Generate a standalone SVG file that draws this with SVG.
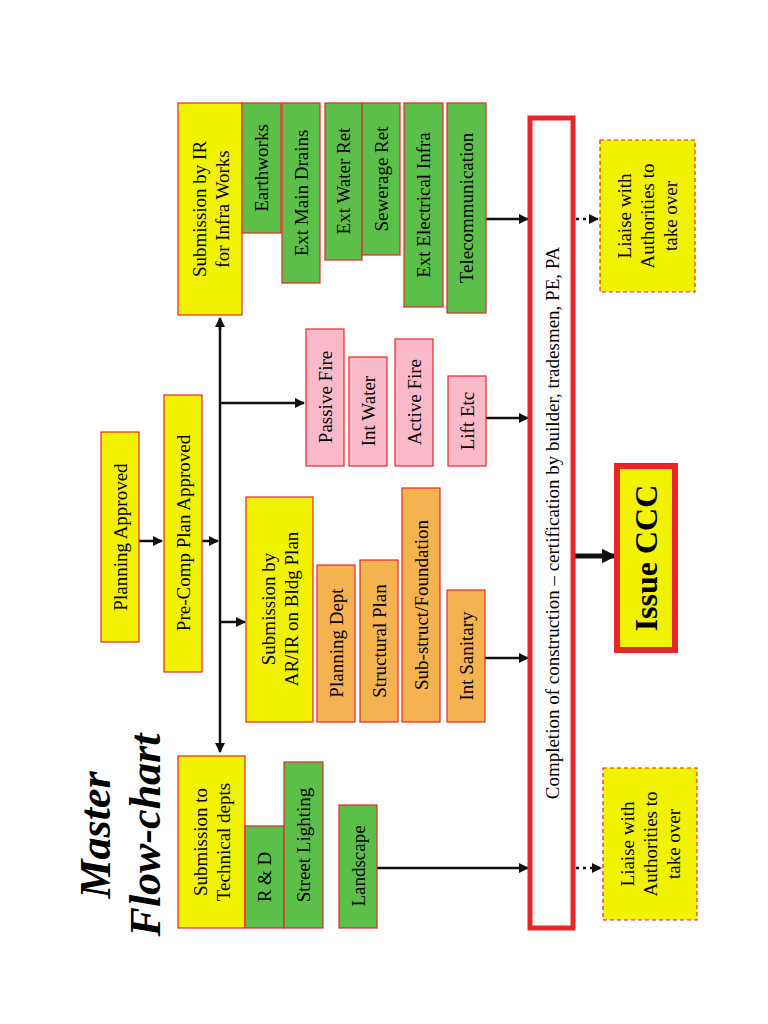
<svg xmlns="http://www.w3.org/2000/svg" width="768" height="1024" viewBox="0 0 768 1024">
<defs>
<style>
text{font-family:"Liberation Serif",serif;font-size:19px;fill:#000;text-anchor:middle;dominant-baseline:central}
.y{fill:#f2f200;stroke:#e8262a;stroke-width:1.2}
.g{fill:#5cbf4a;stroke:#e8262a;stroke-width:1.2}
.o{fill:#f4b350;stroke:#e8262a;stroke-width:1.2}
.p{fill:#f9b9c8;stroke:#e8262a;stroke-width:1.2}
.c{stroke:#111;stroke-width:2.5;fill:none}
</style>
<marker id="a" viewBox="0 0 10 10" refX="9" refY="5" markerWidth="4" markerHeight="4" orient="auto"><path d="M0,0L10,5L0,10z" fill="#111"/></marker>
<marker id="b" viewBox="0 0 10 10" refX="9" refY="5" markerWidth="3" markerHeight="3" orient="auto"><path d="M0,0L10,5L0,10z" fill="#111"/></marker>
</defs>
<rect width="768" height="1024" fill="#fff"/>
<g id="title"><text transform="translate(95,835) rotate(-90)" style="font-size:44px;font-weight:bold;font-style:italic">Master</text><text transform="translate(145,835) rotate(-90)" style="font-size:44px;font-weight:bold;font-style:italic">Flow-chart</text></g>
<g id="connectors">
<path class="c" d="M139,541H162" marker-end="url(#a)"/>
<path class="c" d="M202,541H218" marker-end="url(#a)"/>
<path class="c" d="M220,320V752" marker-end="url(#a)"/>
<path class="c" d="M220,330V318" marker-end="url(#a)"/>
<path class="c" d="M220,622H245" marker-end="url(#a)"/>
<path class="c" d="M220,403H304" marker-end="url(#a)"/>
<path class="c" d="M377,868H528" marker-end="url(#a)"/>
<path class="c" d="M485,658H528" marker-end="url(#a)"/>
<path class="c" d="M486,418H528" marker-end="url(#a)"/>
<path class="c" d="M486,219H528" marker-end="url(#a)"/>
<path d="M573,556H615" stroke="#111" stroke-width="5" marker-end="url(#b)"/>
<path class="c" d="M576,219H598" stroke-dasharray="3,4" marker-end="url(#a)"/>
<path class="c" d="M576,868H601" stroke-dasharray="3,4" marker-end="url(#a)"/>
</g>
<g id="planning"><rect class="y" x="101" y="432" width="38" height="210"/><text transform="translate(120,537) rotate(-90)">Planning Approved</text></g>
<g id="precomp"><rect class="y" x="164" y="395" width="38" height="277"/><text transform="translate(183,533) rotate(-90)">Pre-Comp Plan Approved</text></g>
<g id="tech"><rect class="y" x="178" y="756" width="67" height="172"/><text transform="translate(211,842) rotate(-90)"><tspan x="0" dy="-11">Submission to</tspan><tspan x="0" dy="23">Technical depts</tspan></text></g>
<g id="rd"><rect class="g" x="245" y="826" width="39" height="102"/><text transform="translate(264,877) rotate(-90)">R &amp; D</text></g>
<g id="street"><rect class="g" x="284" y="762" width="39" height="166"/><text transform="translate(303,845) rotate(-90)">Street Lighting</text></g>
<g id="landscape"><rect class="g" x="339" y="805" width="38" height="123"/><text transform="translate(358,866) rotate(-90)">Landscape</text></g>
<g id="arir"><rect class="y" x="246" y="497" width="67" height="225"/><text transform="translate(279,609) rotate(-90)"><tspan x="0" dy="-11">Submission by</tspan><tspan x="0" dy="23">AR/IR on Bldg Plan</tspan></text></g>
<g id="pdept"><rect class="o" x="317" y="565" width="38" height="157"/><text transform="translate(336,643) rotate(-90)">Planning Dept</text></g>
<g id="struct"><rect class="o" x="360" y="560" width="38" height="162"/><text transform="translate(379,641) rotate(-90)">Structural Plan</text></g>
<g id="sub"><rect class="o" x="402" y="488" width="38" height="234"/><text transform="translate(421,605) rotate(-90)">Sub-struct/Foundation</text></g>
<g id="intsan"><rect class="o" x="447" y="590" width="38" height="132"/><text transform="translate(466,656) rotate(-90)">Int Sanitary</text></g>
<g id="pfire"><rect class="p" x="306" y="329" width="38" height="137"/><text transform="translate(325,397) rotate(-90)">Passive Fire</text></g>
<g id="iwater"><rect class="p" x="349" y="357" width="38" height="109"/><text transform="translate(368,411) rotate(-90)">Int Water</text></g>
<g id="afire"><rect class="p" x="395" y="339" width="38" height="127"/><text transform="translate(414,402) rotate(-90)">Active Fire</text></g>
<g id="lift"><rect class="p" x="448" y="376" width="38" height="90"/><text transform="translate(467,421) rotate(-90)">Lift Etc</text></g>
<g id="irinfra"><rect class="y" x="178" y="103" width="64" height="212"/><text transform="translate(210,209) rotate(-90)"><tspan x="0" dy="-11">Submission by IR</tspan><tspan x="0" dy="23">for Infra Works</tspan></text></g>
<g id="earth"><rect class="g" x="242" y="103" width="39" height="130"/><text transform="translate(261,168) rotate(-90)">Earthworks</text></g>
<g id="drains"><rect class="g" x="282" y="103" width="38" height="180"/><text transform="translate(301,193) rotate(-90)">Ext Main Drains</text></g>
<g id="water"><rect class="g" x="325" y="103" width="37" height="157"/><text transform="translate(343,181) rotate(-90)">Ext Water Ret</text></g>
<g id="sewer"><rect class="g" x="362" y="103" width="38" height="152"/><text transform="translate(381,179) rotate(-90)">Sewerage Ret</text></g>
<g id="elec"><rect class="g" x="404" y="103" width="39" height="204"/><text transform="translate(423,205) rotate(-90)">Ext Electrical Infra</text></g>
<g id="tele"><rect class="g" x="447" y="103" width="39" height="210"/><text transform="translate(466,208) rotate(-90)">Telecommunication</text></g>
<g id="completion"><rect x="530" y="118" width="43" height="810" fill="#fff" stroke="#e8262a" stroke-width="5"/><text transform="translate(552,523) rotate(-90)">Completion of construction – certification by builder, tradesmen, PE, PA</text></g>
<g id="ccc"><rect x="617" y="466" width="58" height="184" fill="#f2f200" stroke="#e8262a" stroke-width="6"/><text transform="translate(646,558) rotate(-90)" style="font-size:32px;font-weight:bold">Issue CCC</text></g>
<g id="liaise1"><rect x="600" y="140" width="95" height="152" fill="#f2f200" stroke="#e8262a" stroke-width="1.2" stroke-dasharray="4,3"/><text transform="translate(647,216) rotate(-90)"><tspan x="0" dy="-23">Liaise with</tspan><tspan x="0" dy="23">Authorities to</tspan><tspan x="0" dy="23">take over</tspan></text></g>
<g id="liaise2"><rect x="603" y="768" width="94" height="152" fill="#f2f200" stroke="#e8262a" stroke-width="1.2" stroke-dasharray="4,3"/><text transform="translate(650,844) rotate(-90)"><tspan x="0" dy="-23">Liaise with</tspan><tspan x="0" dy="23">Authorities to</tspan><tspan x="0" dy="23">take over</tspan></text></g>
</svg>
